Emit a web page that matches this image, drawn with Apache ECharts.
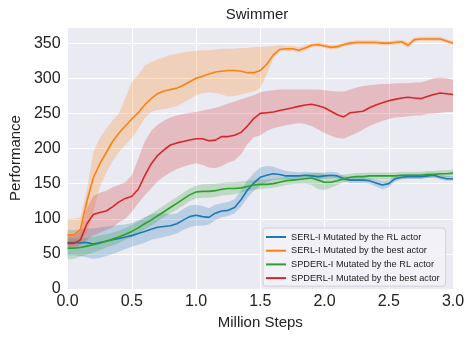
<!DOCTYPE html>
<html><head><meta charset="utf-8">
<script src="https://cdn.jsdelivr.net/npm/echarts@6/dist/echarts.min.js"></script>
<style>html,body{margin:0;padding:0;background:#fff}#c{width:474px;height:338px}</style>
</head><body><div id="c"></div><script>
const steps = [0,0.05,0.1,0.15,0.2,0.25,0.3,0.35,0.4,0.45,
0.5,0.55,0.6,0.65,0.7,0.75,0.8,0.85,0.9,0.95,
1.0,1.05,1.1,1.15,1.2,1.25,1.3,1.35,1.4,1.45,
1.5,1.55,1.6,1.65,1.7,1.75,1.8,1.85,1.9,1.95,
2.0,2.05,2.1,2.15,2.2,2.25,2.3,2.35,2.4,2.45,
2.5,2.55,2.6,2.65,2.7,2.75,2.8,2.85,2.9,2.95,3.0];
const xTicks = [0,0.5,1.0,1.5,2.0,2.5,3.0];
const yTicks = [0,50,100,150,200,250,300,350];

const seriesNames = ['SERL-I Mutated by the RL actor','SERL-I Mutated by the best actor','SPDERL-I Mutated by the RL actor','SPDERL-I Mutated by the best actor'];

const blueMean = [66,66,66,66,64,66,68,70,72,74, 76,79,82,85,88,89,90,93,98,103, 105,103,102,108,111,112,116,127,141,151, 159,162,164,163,161,161,161,162,161,160, 161,162,161,157,155,155,155,154,151,148, 150,157,159,160,160,160,161,162,159,157, 157];
const blueLow = [48,48,47,45,43,44,47,50,53,57, 60,63,66,70,72,74,76,79,84,88, 90,90,92,98,102,104,108,117,130,140, 147,152,155,156,156,156,157,158,157,156, 157,158,157,153,151,151,151,150,146,142, 145,153,156,157,157,157,158,159,156,154, 154];
const blueHigh = [84,84,85,86,86,88,89,90,91,92, 94,98,102,106,108,108,106,108,114,119, 120,118,115,120,122,124,128,140,155,165, 173,175,174,171,168,167,166,167,166,165, 166,167,166,161,159,159,159,158,156,154, 155,161,163,164,164,164,165,166,163,161, 161];

const orangeMean = [77,77,85,125,158,178,194,210,222,232, 242,251,262,271,278,282,284,286,290,295, 300,303,306,309,310,311,311,310,308,308, 311,320,333,341,342,342,340,343,347,348, 346,344,345,348,350,351,351,351,351,350, 350,351,352,347,355,356,356,356,356,353, 350];
const orangeLow = [68,68,70,80,110,145,165,182,195,205, 215,228,243,252,255,256,258,260,265,270, 276,279,280,279,277,274,275,277,279,281, 286,305,328,338,339,339,337,340,344,345, 343,341,342,345,347,348,348,348,348,347, 347,348,349,343,352,353,353,353,353,350, 347];
const orangeHigh = [100,100,102,140,195,215,228,240,250,272, 295,305,318,323,327,330,333,335,337,338, 339,340,340,341,342,342,342,343,343,344, 345,345,346,347,346,346,344,347,350,351, 349,347,348,351,353,354,354,354,354,353, 353,354,355,351,358,359,359,359,359,356, 353];

const greenMean = [58,58,59,61,63,65,68,71,74,78, 82,87,93,98,104,110,116,122,128,134, 138,139,139,140,142,143,143,144,146,148, 149,149,150,152,154,155,156,157,158,155, 152,152,154,157,159,160,160,161,161,161, 161,161,162,162,162,162,163,163,164,164, 165];
const greenLow = [42,43,46,49,52,55,59,62,66,70, 74,79,85,90,96,102,108,113,119,125, 129,130,130,131,133,134,135,137,139,141, 142,143,144,146,148,149,150,150,148,142, 141,144,148,152,154,155,155,156,156,156, 156,156,157,157,157,157,158,158,159,159, 160];
const greenHigh = [72,72,72,73,74,76,78,80,83,87, 91,96,101,107,113,119,125,131,137,143, 147,149,149,150,151,152,152,153,154,155, 156,156,157,158,160,161,162,163,165,166, 164,161,161,163,164,165,165,166,166,166, 166,166,167,167,167,167,168,168,169,169, 170];

const redMean = [65,65,70,93,106,109,111,117,124,129, 132,142,161,178,190,198,205,208,210,212, 214,214,211,212,217,217,219,223,232,243, 250,251,252,254,256,258,260,262,263,261, 258,253,248,245,251,252,253,258,262,265, 268,270,272,273,272,271,274,277,279,278, 277];
const redLow = [58,58,62,70,76,80,84,88,95,100, 110,122,133,143,153,160,166,171,174,177, 179,177,173,172,175,180,183,192,206,216, 219,225,229,231,233,235,236,235,232,227, 222,218,215,214,218,222,227,232,236,239, 242,244,245,246,247,247,249,250,251,252, 252];
const redHigh = [75,75,82,115,132,137,140,145,148,152, 162,185,210,225,234,240,244,247,249,251, 252,254,256,258,261,264,267,270,273,276, 280,282,283,284,284,284,284,284,284,284, 283,282,281,281,284,287,289,290,291,292, 292,293,293,293,294,294,297,300,301,300, 298];

const colors = ['#1f77b4','#ff7f0e','#2ca02c','#d62728'];
const groups = [
  [blueMean, blueLow, blueHigh],
  [orangeMean, orangeLow, orangeHigh],
  [greenMean, greenLow, greenHigh],
  [redMean, redLow, redHigh]
];
const FONT = 'Liberation Sans, Arial, sans-serif';
const series = [];
groups.forEach((g, i) => {
  const lo = g[1], hi = g[2];
  series.push({
    type: 'custom', coordinateSystem: 'cartesian2d', silent: true, z: 1,
    data: [[steps[0], lo[0]]],
    renderItem: function (params, api) {
      const pts = [];
      for (let k = 0; k < steps.length; k++) pts.push(api.coord([steps[k], hi[k]]));
      for (let k = steps.length - 1; k >= 0; k--) pts.push(api.coord([steps[k], lo[k]]));
      return {type: 'polygon', shape: {points: pts}, style: {fill: colors[i], opacity: 0.24}};
    }
  });
});
groups.forEach((g, i) => {
  series.push({name: seriesNames[i], type: 'line', symbol: 'none', z: 3,
    data: steps.map((x, k) => [x, g[0][k]]),
    lineStyle: {color: colors[i], width: 1.6}, itemStyle: {color: colors[i]}});
});

const chart = echarts.init(document.getElementById('c'), null, {renderer: 'canvas'});
chart.setOption({
  animation: false,
  backgroundColor: '#ffffff',
  title: {text: 'Swimmer', left: 257, top: 7, padding: 0, textAlign: 'center',
    textStyle: {fontSize: 15, fontWeight: 'normal', color: '#222', fontFamily: FONT}},
  grid: {left: 60, right: 21, top: 27, bottom: 49, show: true, backgroundColor: '#EAEAF2', borderWidth: 0},
  legend: {
    data: seriesNames.map((n, i) => ({name: n, icon: 'rect', itemStyle: {color: colors[i]}})),
    orient: 'vertical', left: 263, top: 228,
    itemWidth: 20, itemHeight: 2, itemGap: 3.7,
    padding: [4, 6, 3, 3],
    backgroundColor: 'rgba(242,242,247,0.9)', borderColor: '#d0d0d8', borderWidth: 1, borderRadius: 3,
    textStyle: {fontSize: 9.2, color: '#1a1a1a', fontFamily: FONT, lineHeight: 10}
  },
  xAxis: {
    type: 'value', min: xTicks[0], max: xTicks[xTicks.length - 1], interval: 0.5,
    axisLine: {show: false}, axisTick: {show: false},
    splitLine: {show: true, lineStyle: {color: '#ffffff', width: 1}},
    axisLabel: {margin: 5, fontSize: 16, color: '#222', fontFamily: FONT, formatter: v => v.toFixed(1)},
    name: 'Million Steps', nameLocation: 'middle', nameGap: 22,
    nameTextStyle: {fontSize: 15, color: '#222', fontFamily: FONT}
  },
  yAxis: {
    type: 'value', min: yTicks[0], max: 373, interval: 50,
    axisLine: {show: false}, axisTick: {show: false},
    splitLine: {show: true, lineStyle: {color: '#ffffff', width: 1}},
    axisLabel: {margin: 7, fontSize: 16, color: '#222', fontFamily: FONT, showMaxLabel: false},
    name: 'Performance', nameLocation: 'middle', nameGap: 33,
    nameTextStyle: {fontSize: 15, color: '#222', fontFamily: FONT}
  },
  series: series
});
</script></body></html>
